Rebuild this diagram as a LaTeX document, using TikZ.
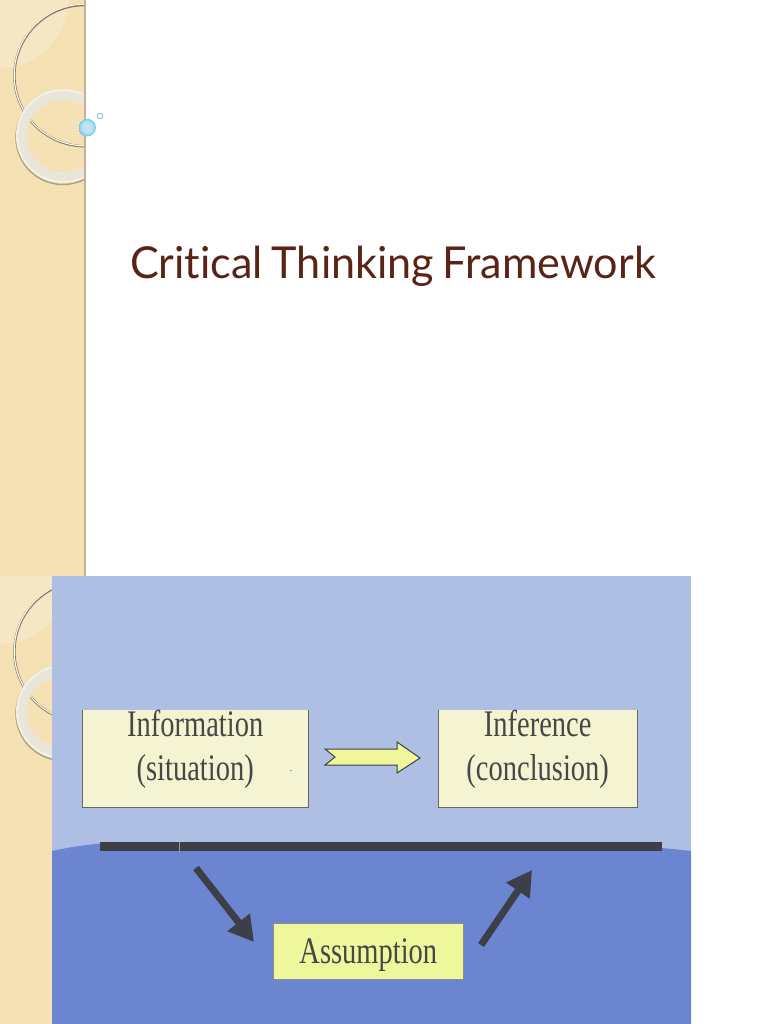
\documentclass[tikz,border=0pt]{standalone}
\usepackage{fontspec}
\usetikzlibrary{arrows.meta,patterns,shadings}
\newfontfamily\titlefont[FakeStretch=0.98,Ligatures=NoCommon,WordSpace=0.8]{Lato}
\newfontfamily\boxfont[FakeStretch=0.76]{Liberation Serif}
\definecolor{stripbg}{HTML}{F4DFB0}
\definecolor{stripdot}{HTML}{FAEBCB}
\definecolor{patchc}{HTML}{F7E9CA}
\definecolor{ringc}{HTML}{E9E5D9}
\definecolor{slideup}{HTML}{AFBEE3}
\definecolor{slidelow}{HTML}{6B85D1}
\definecolor{boxpale}{HTML}{F4F4D2}
\definecolor{boxyellow}{HTML}{EEF79B}
\definecolor{arrowyellow}{HTML}{EFF79A}
\definecolor{darkbar}{HTML}{3C3F47}
\definecolor{titlec}{HTML}{5A2315}
\definecolor{bubbleA}{HTML}{C6E7F3}
\definecolor{bubbleB}{HTML}{B5E0F1}
\definecolor{bubbleC}{HTML}{6CCBEF}
\pgfdeclareradialshading{bubble}{\pgfpoint{0pt}{4pt}}{%
  color(0pt)=(bubbleA); color(16pt)=(bubbleB); color(24pt)=(bubbleC); color(25pt)=(bubbleC)}
\pgfdeclarepatternformonly{stripdots}{\pgfqpoint{-0.5pt}{-0.5pt}}{\pgfqpoint{2.5pt}{2.5pt}}{\pgfqpoint{3pt}{3pt}}{%
  \pgfpathcircle{\pgfqpoint{0pt}{0pt}}{0.55pt}\pgfpathcircle{\pgfqpoint{1.5pt}{1.5pt}}{0.55pt}\pgfusepath{fill}}
\tikzset{
  x=1pt,y=-1pt,
  darkarrow/.style={draw=darkbar,line width=7pt,-{Triangle[length=25pt,width=27pt]}},
  palebox/.style={inner sep=0pt,anchor=north west,align=center,font=\boxfont\fontsize{37.5}{44}\selectfont,text=black!72},
  pics/deco/.style={code={
    \fill[stripbg] (0,0) rectangle (#1,576);
    \fill[pattern=stripdots,pattern color=stripdot] (0,0) rectangle (#1,576);
    \begin{scope}
      \clip (0,0) rectangle (#1,576);
      \fill[patchc,opacity=.8] (0,0) circle (68);
      \draw[draw=black!45!stripbg,line width=2.4pt] (85,75.6) circle (70.6);
      \draw[draw=white!85!stripbg,line width=1.1pt] (85,75) circle (70.8);
      \draw[draw=black!28!stripbg,line width=1.5pt] (63,137.5) circle (47);
      \draw[draw=ringc,line width=11pt] (63,136) circle (41.5);
      \draw[draw=white,line width=2pt,opacity=.45] (63,136) circle (46);
    \end{scope}
  }}
}
\begin{document}
\begin{tikzpicture}
\useasboundingbox (0,0) rectangle (768,1024);
\fill[white] (0,0) rectangle (768,1024);
% upper slide
\pic at (0,0) {deco=85};
\fill[black!20!stripbg] (84,0) rectangle (85.8,576);
\shade[shading=bubble] (87,127.5) circle (9);
\draw[draw=cyan!50!gray!70,line width=.9pt] (100,116) circle (2.8);
\node[anchor=base west,inner sep=0pt,text=titlec,font=\titlefont\fontsize{44}{50}\selectfont] (title) at (130,278) {Critical Thinking Framework};
% lower slide
\pic at (0,576) {deco=52};
\fill[slideup] (52,576) rectangle (691,1024);
\fill[slidelow] (52,851) .. controls (68,847.5) and (84,845) .. (100,843.5) -- (662,848) .. controls (672,849) and (682,850) .. (691,851) -- (691,1024) -- (52,1024) -- cycle;
\node[fill=darkbar,inner sep=0pt,minimum width=562pt,minimum height=9pt,anchor=north west] (bar) at (100,842) {};
\draw[white!45!darkbar,line width=.5pt] (179,842) -- (179,853);
% boxes
\fill[boxpale] (82,710) rectangle (308,807);
\fill[boxpale] (438,710) rectangle (637,807);
\draw[black!60,line width=.9pt] (82,710) -- (82,807) -- (308,807) -- (308,710);
\draw[black!60,line width=.9pt] (438,710) -- (438,807) -- (637,807) -- (637,710);
\node[palebox,minimum width=226pt,minimum height=97pt] (info) at (82,710) {\raisebox{3pt}[0pt][0pt]{\begin{tabular}{@{}c@{}}Information\\[-.5pt](situation)\end{tabular}}};
\node[palebox,minimum width=199pt,minimum height=97pt] (inf) at (438,710) {\raisebox{3pt}[0pt][0pt]{\begin{tabular}{@{}c@{}}Inference\\[-.5pt](conclusion)\end{tabular}}};
\node[palebox,fill=boxyellow,draw=black!45,line width=.7pt,minimum width=190pt,minimum height=56pt] (assume) at (273,923) {\raisebox{-12pt}[0pt][0pt]{Assumption}};
\fill[black!70] (291,770.5) circle (.6);
% arrows
\coordinate (yt) at (325,749);
\draw[fill=arrowyellow,draw=darkbar,line width=1pt,line join=miter] (yt) -- (397,749) -- (397,742) -- (420,758) -- (397,773) -- (397,765) -- (325,765) -- (335,757) -- cycle;
\coordinate (aStart) at (196,868);
\coordinate (aEnd) at (254,942);
\draw[darkarrow] (aStart) -- (aEnd);
\coordinate (bStart) at (481,945);
\coordinate (bEnd) at (532,870);
\draw[darkarrow] (bStart) -- (bEnd);
\end{tikzpicture}
\end{document}
